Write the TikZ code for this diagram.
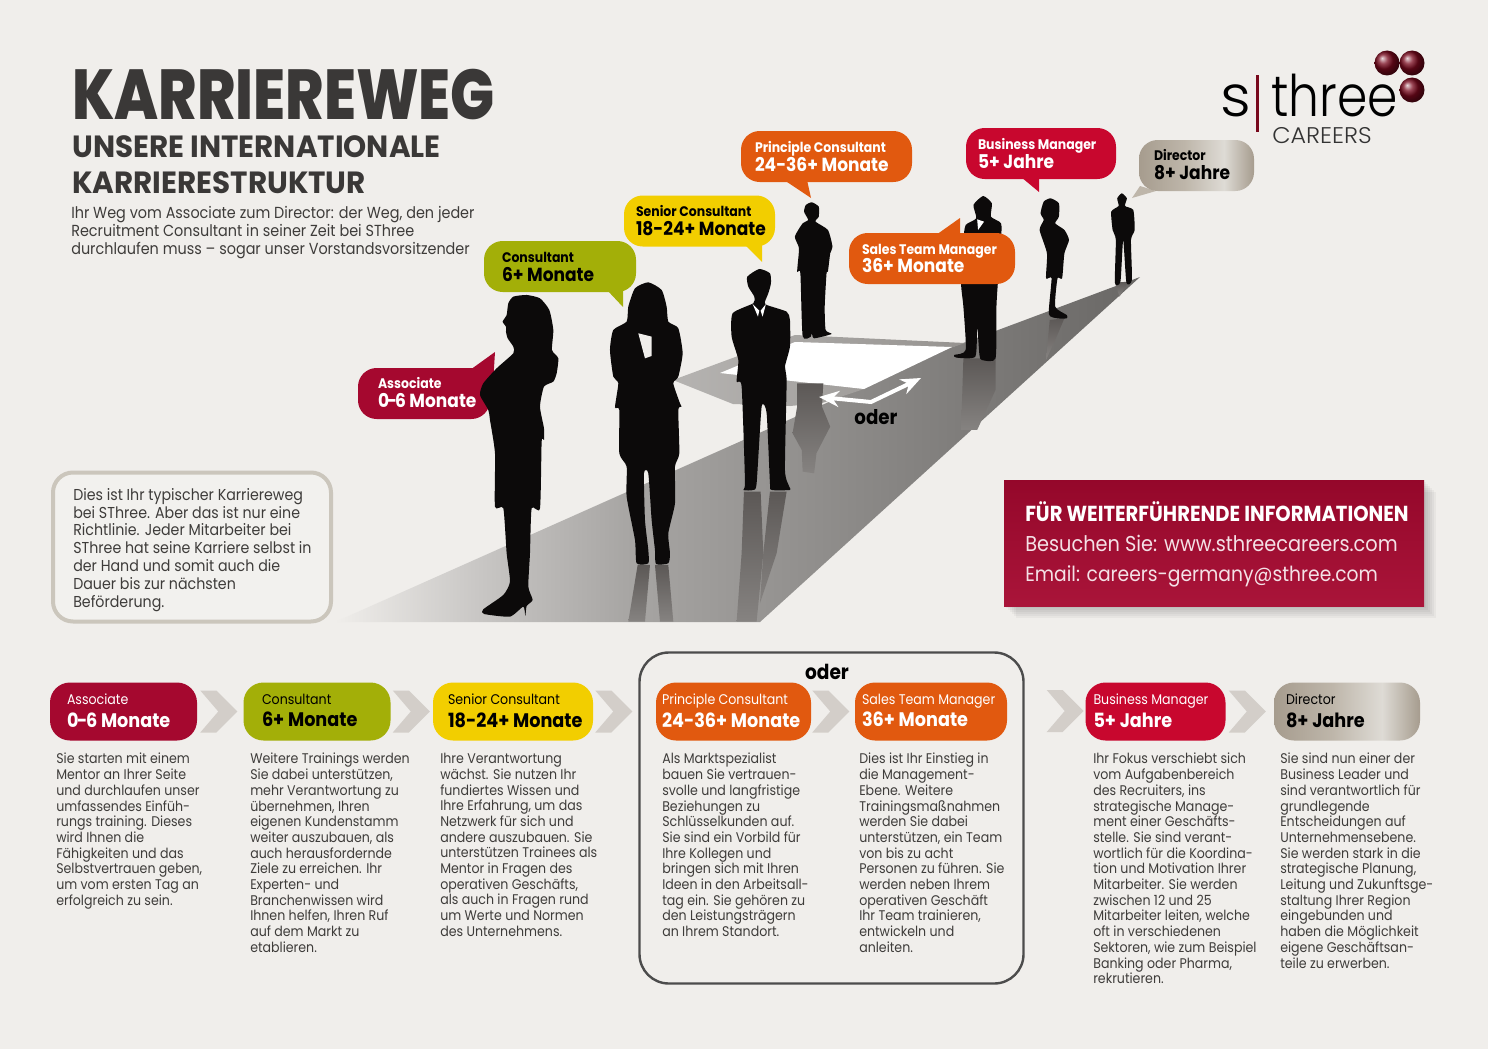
\documentclass[tikz,border=0pt]{standalone}
\usepackage{fontspec}
\setmainfont{Poppins}[FakeStretch=0.9]
\newfontfamily\logofont{Poppins}[UprightFont=* Light,FakeStretch=0.85]
\newfontfamily\logowide{Poppins}[UprightFont=* Light,FakeStretch=1.05]
\newfontfamily\titlefont{Poppins}[UprightFont=* ExtraBold,FakeStretch=0.825]
\newfontfamily\subfont{Poppins}[UprightFont=* Bold,FakeStretch=0.96]
\usepackage{xcolor}
\usetikzlibrary{arrows.meta, positioning, calc}
\definecolor{bgpaper}{RGB}{240, 238, 235}
\definecolor{assocred}{RGB}{165, 8, 47}
\definecolor{consgreen}{RGB}{163, 175, 8}
\definecolor{senioryellow}{RGB}{242, 206, 0}
\definecolor{princorange}{RGB}{225, 89, 15}
\definecolor{busred}{RGB}{200, 7, 46}
\definecolor{dirtan}{RGB}{190, 182, 170}
\definecolor{dirdark}{RGB}{166, 156, 142}
\definecolor{dirlight}{RGB}{222, 219, 213}
\definecolor{bodytext}{RGB}{62, 60, 58}
\definecolor{headtext}{RGB}{58, 56, 55}
\definecolor{chevgray}{RGB}{211, 206, 201}
\definecolor{noteframe}{RGB}{203, 198, 188}
\definecolor{silhouette}{RGB}{12, 10, 10}
\definecolor{roadmid}{RGB}{168, 166, 164}
\definecolor{roadlow}{RGB}{200, 198, 196}
\definecolor{roaddark}{RGB}{146, 144, 142}
\definecolor{roadend}{RGB}{105, 103, 101}
\definecolor{reflect}{RGB}{92, 88, 86}
\definecolor{bandgray}{RGB}{150, 147, 144}
\definecolor{logored}{RGB}{120, 8, 28}
\pgfdeclarehorizontalshading{roadshade}{100bp}{color(0bp)=(bgpaper); color(25bp)=(bgpaper); color(34bp)=(roadlow); color(43bp)=(roadmid); color(54bp)=(roaddark); color(75bp)=(roadend); color(100bp)=(roadend)}
\pgfdeclarehorizontalshading{dirshade}{100bp}{color(0bp)=(dirdark); color(25bp)=(dirdark); color(45bp)=(dirtan); color(62bp)=(dirlight); color(75bp)=(dirdark); color(100bp)=(dirdark)}
\def\px{0.75pt}
\tikzset{
    pill/.style={rectangle, rounded corners=15pt, minimum height=58*\px, inner sep=0pt},
    pilllabel/.style={anchor=west, inner sep=0pt, align=left, font=\fontsize{10}{17}\selectfont},
    bubble/.style={rectangle, rounded corners=14pt, minimum height=51*\px, inner sep=0pt},
    bubblelabel/.style={anchor=west, inner sep=0pt, align=left, font=\fontsize{10}{14}\selectfont},
    desc/.style={anchor=north west, inner sep=0pt, align=left, text=bodytext, font=\fontsize{10.5}{11.78}\selectfont},
    heading/.style={anchor=base west, inner sep=0pt, text=headtext},
    figure/.style={fill=silhouette},
    mirror/.style={top color=reflect, bottom color=reflect!45!roadmid},
    chevron/.style={fill=chevgray},
    oderarrow/.style={draw=white, line width=3pt, {Stealth[length=15pt,width=12pt]}-{Stealth[length=15pt,width=12pt]}},
    zoomone/.style={shift={(340,120)}, scale=0.3333},
    zoomtwo/.style={shift={(720,40)}, xscale=0.4592, yscale=0.3333}
}
\newcommand{\pilltext}[2]{{\fontsize{10.5}{17}\selectfont #1}\\{\fontsize{14.7}{17}\selectfont\bfseries #2}}
\newcommand{\bubtext}[2]{{\fontsize{10.4}{14}\selectfont\bfseries #1}\\{\fontsize{14.2}{14}\selectfont\bfseries #2}}
\newcommand{\chevronat}[1]{\fill[chevron, shift={(#1)}] (0,-21) -- (16,-21) -- (37,0) -- (16,21) -- (0,21) -- (18,0) -- cycle;}
\begin{document}
\begin{tikzpicture}[x=0.75pt, y=-0.75pt]
    \useasboundingbox (0,0) rectangle (1488,1049);
    \fill[bgpaper] (0,0) rectangle (1488,1049);

    % Road and platform
    \shade[shading=roadshade] (1140,277) -- (760,622) -- (335,622) -- (950,348) -- cycle;
    \shade[left color=bandgray!70!white, right color=bandgray] (673,380) -- (795,335) -- (965,343) -- (950,348) -- (864,389) -- (822,403) -- (790,406) -- (733,404) -- cycle;
    \fill[white] (720,373) -- (795,342) -- (952,347) -- (864,389) -- cycle;

    % Reflections
    \begin{scope}[zoomone]
        \path[mirror] (893,1335) -- (930,1335) -- (915,1505) -- (865,1505) -- cycle;
        \path[mirror] (945,1335) -- (985,1335) -- (1000,1505) -- (960,1505) -- cycle;
        \path[mirror] (1212,1115) -- (1262,1115) -- (1270,1300) -- (1250,1505) -- (1190,1505) -- (1205,1300) -- cycle;
        \path[mirror] (1290,1115) -- (1340,1115) -- (1310,1300) -- (1260,1450) -- (1270,1300) -- cycle;
    \end{scope}
    \begin{scope}[zoomtwo]
        \path[mirror] (168,1030) -- (225,1030) -- (222,1100) -- (240,1160) -- (210,1240) -- (205,1300) -- (180,1295) -- (178,1230) -- (158,1180) -- (168,1100) -- cycle;
        \path[mirror] (530,955) -- (600,955) -- (600,1050) -- (560,1170) -- (525,1170) -- cycle;
        \path[mirror] (718,840) -- (750,835) -- (730,900) -- (710,960) -- cycle;
        \path[mirror] (860,728) -- (890,725) -- (870,770) -- cycle;
    \end{scope}

    % Speech bubbles behind the figures
    \fill[assocred] (470,370) -- (495,352) -- (492,400) -- cycle;
    \node[bubble, fill=assocred, minimum width=132*\px] (assocbub) at (424,393.5) {};
    \node[bubblelabel, text=white] (assoclabel) at ($(assocbub.west)+(20,-1)$) {\bubtext{Associate}{0\kern-1.5pt-\kern-1.5pt6 Monate}};
    \fill[consgreen] (607,290) -- (623,307) -- (623,290) -- cycle;
    \node[bubble, fill=consgreen, minimum width=152*\px] (consbub) at (560,266.5) {};
    \node[bubblelabel, text=black] (conslabel) at ($(consbub.west)+(18,0.5)$) {\bubtext{Consultant}{6+ Monate}};
    \fill[senioryellow] (745,245) -- (762,262) -- (762,245) -- cycle;
    \node[bubble, fill=senioryellow, minimum width=151*\px] (seniorbub) at (699.5,221) {};
    \node[bubblelabel, text=black] (seniorlabel) at ($(seniorbub.west)+(12,-0.5)$) {\bubtext{Senior Consultant}{18-24+ Monate}};
    \fill[princorange] (784,180) -- (811,198) -- (807,180) -- cycle;
    \node[bubble, fill=princorange, minimum width=171*\px] (princbub) at (826.5,156.5) {};
    \node[bubblelabel, text=white] (princlabel) at ($(princbub.west)+(14,0)$) {\bubtext{Principle Consultant}{24-36+ Monate}};
    \fill[busred] (1021,177) -- (1039,192) -- (1039,177) -- cycle;
    \node[bubble, fill=busred, minimum width=150*\px] (busbub) at (1041,153.5) {};
    \node[bubblelabel, text=white] (buslabel) at ($(busbub.west)+(12,0)$) {\bubtext{Business Manager}{5+ Jahre}};
    \fill[dirtan] (1140,186) -- (1132,198) -- (1156,191) -- cycle;
    \node[bubble, shade, shading=dirshade, minimum width=115*\px] (dirbub) at (1196.5,165.5) {};
    \node[bubblelabel, text=black] (dirlabel) at ($(dirbub.west)+(15,-1)$) {\bubtext{Director}{8+ Jahre}};

    % Figures, front to back
    \begin{scope}[zoomone]
        \fill[figure] plot[smooth cycle, tension=0.35] coordinates {(560,525) (600,535) (628,570) (640,630) (636,690) (655,715) (650,760) (640,785) (612,800) (600,860) (612,925) (612,960) (605,965) (600,1165) (575,1165) (570,1300) (565,1400) (578,1440) (560,1458) (556,1488) (550,1460) (510,1490) (432,1482) (430,1468) (490,1425) (510,1385) (500,1300) (490,1165) (465,1160) (465,1000) (450,900) (445,870) (420,825) (430,790) (470,745) (520,700) (520,680) (503,655) (498,635) (498,620) (488,605) (500,585) (505,550) (520,530)};
        \fill[figure] plot[smooth cycle, tension=0.35] coordinates {(925,487) (965,510) (980,560) (985,605) (1015,625) (1028,700) (1015,770) (1000,790) (1020,850) (1025,860) (1015,870) (1018,1000) (1005,1040) (1005,1150) (985,1240) (990,1300) (985,1330) (948,1332) (945,1290) (935,1200) (925,1060) (912,1060) (915,1200) (925,1290) (925,1330) (890,1330) (885,1260) (860,1130) (860,1040) (838,1000) (838,870) (825,862) (835,790) (820,770) (810,690) (820,630) (860,605) (865,560) (885,505)};
        \fill[bgpaper] (895,640) -- (935,650) -- (935,708) -- (915,715) -- cycle;
        \fill[figure] plot[smooth cycle, tension=0.35] coordinates {(1258,447) (1290,460) (1293,490) (1285,520) (1275,545) (1280,555) (1340,575) (1350,600) (1350,680) (1335,740) (1340,785) (1335,1050) (1348,1100) (1350,1110) (1295,1110) (1290,1090) (1280,880) (1265,860) (1250,1090) (1240,1110) (1210,1110) (1215,1085) (1205,800) (1190,785) (1195,720) (1175,650) (1178,580) (1240,550) (1243,530) (1225,500) (1222,470)};
        \fill[white] (1238,552) -- (1258,572) -- (1254,590) -- cycle;
        \fill[white] (1278,552) -- (1262,572) -- (1268,590) -- cycle;
    \end{scope}
    \begin{scope}[zoomtwo]
        \fill[figure] plot[smooth cycle, tension=0.35] coordinates {(200,487) (215,500) (215,530) (208,545) (235,570) (245,620) (240,640) (235,695) (232,700) (228,800) (230,870) (243,882) (205,895) (200,880) (198,890) (180,888) (175,700) (168,695) (172,625) (163,590) (180,550) (192,540) (183,515) (187,495)};
        \fill[figure] plot[smooth cycle, tension=0.35] coordinates {(573,468) (592,490) (590,530) (612,550) (612,600) (605,730) (602,800) (600,955) (570,960) (565,945) (560,860) (556,950) (515,953) (510,945) (535,930) (530,800) (525,730) (530,600) (535,555) (558,535) (552,495)};
        \fill[white] (560,538) -- (575,545) -- (562,570) -- cycle;
        \fill[figure] plot[smooth cycle, tension=0.35] coordinates {(720,475) (738,490) (738,530) (730,550) (750,570) (760,600) (750,640) (745,715) (735,715) (730,800) (755,825) (755,835) (735,835) (716,822) (722,715) (710,715) (712,640) (696,570) (705,540) (698,520) (705,485)};
        \fill[figure] plot[smooth cycle, tension=0.35] coordinates {(875,460) (886,475) (882,498) (900,510) (903,570) (895,600) (897,720) (885,728) (878,600) (872,725) (860,728) (862,600) (855,570) (852,515) (868,498) (865,475)};
    \end{scope}

    % Sales bubble in front of its figure
    \fill[princorange] (936,235) -- (960,218) -- (960,235) -- cycle;
    \node[bubble, fill=princorange, minimum width=166*\px] (salesbub) at (932,258.5) {};
    \node[bubblelabel, text=white] (saleslabel) at ($(salesbub.west)+(13,0)$) {\bubtext{Sales Team Manager}{36+ Monate}};

    % Double arrow
    \coordinate (arrowleft) at (819,397);
    \coordinate (arrowbend) at (871,402);
    \coordinate (arrowright) at (921,378);
    \draw[oderarrow] (arrowleft) -- (arrowbend) -- (arrowright);
    \node[anchor=base, inner sep=0pt, font=\fontsize{15.2}{15}\selectfont\bfseries] (oderroad) at (876,424) {oder};

    % Title box
    \node[heading, font=\titlefont\fontsize{53}{53}\selectfont] (title) at (72,119) {KARRIEREWEG};
    \node[heading, font=\subfont\fontsize{23}{23}\selectfont] (subone) at (72,157) {UNSERE INTERNATIONALE};
    \node[heading, font=\subfont\fontsize{23}{23}\selectfont] (subtwo) at (72,193) {KARRIERESTRUKTUR};
    \node[desc, font=\fontsize{12}{13.4}\selectfont] (intro) at (71,206) {Ihr Weg vom Associate zum Director: der Weg, den jeder\\Recruitment Consultant in seiner Zeit bei SThree\\durchlaufen muss -- sogar unser Vorstandsvorsitzender};

    % Logo
    \node[anchor=base west, inner sep=0pt, font=\logowide\fontsize{43}{43}\selectfont, text=black] (logos) at (1220,116) {s};
    \node[anchor=base west, inner sep=0pt, font=\logofont\fontsize{43}{43}\selectfont, text=black] (logothree) at (1271,116) {three};
    \node[anchor=base west, inner sep=0pt, font=\logowide\fontsize{17}{17}\selectfont, text=black!80] (logocareers) at (1272,143) {CAREERS};
    \fill[logored] (1256,75) rectangle (1259,132);
    \shade[ball color=logored] (1387,63) circle (12.5);
    \shade[ball color=logored] (1412,63) circle (12.5);
    \shade[ball color=logored] (1412,90) circle (12.5);

    % Note box
    \node[rectangle, rounded corners=15pt, draw=noteframe, line width=3pt, fill=bgpaper!85!white, minimum width=278*\px, minimum height=149*\px] (notebox) at (192,547) {};
    \node[desc, font=\fontsize{11.85}{13.37}\selectfont] (notetext) at (73,488) {Dies ist Ihr typischer Karriereweg\\bei SThree. Aber das ist nur eine\\Richtlinie. Jeder Mitarbeiter bei\\SThree hat seine Karriere selbst in\\der Hand und somit auch die\\Dauer bis zur nächsten\\Beförderung.};

    % Info box
    \foreach \d in {2,4,...,12} {
        \fill[black, opacity=0.035] (1004+\d,480+\d) rectangle (1424+\d,606+\d);
    }
    \node[rectangle, top color=assocred!90!black, bottom color=assocred!95!white, minimum width=420*\px, minimum height=126*\px, inner sep=0pt] (infobox) at (1214,543) {};
    \node[anchor=base west, inner sep=0pt, text=white, font=\fontsize{16.3}{15}\selectfont\bfseries] (infohead) at (1025,521) {FÜR WEITERFÜHRENDE INFORMATIONEN};
    \node[anchor=base west, inner sep=0pt, text=white!88!assocred, font=\fontsize{16.1}{15}\selectfont] (infoweb) at (1025,551) {Besuchen Sie: www.sthreecareers.com};
    \node[anchor=base west, inner sep=0pt, text=white!88!assocred, font=\fontsize{15.6}{15}\selectfont] (infomail) at (1025,581) {Email: careers-germany@sthree.com};

    % Frame around the two options
    \node[rectangle, rounded corners=22pt, draw=black!70, line width=1.8pt, minimum width=384*\px, minimum height=331*\px] (orbox) at (831.5,818) {};
    \node[anchor=base, inner sep=0pt, font=\fontsize{15.5}{15}\selectfont\bfseries] (orlabel) at (827,679) {oder};

    % Career pills
    \node[pill, fill=assocred, minimum width=147*\px] (assocpill) at (123.5,711.5) {};
    \node[pilllabel, text=white] (assocpilltext) at ($(assocpill.west)+(17,-1)$) {\pilltext{Associate}{0\kern-1pt-\kern-1pt6 Monate}};
    \node[pill, fill=consgreen, minimum width=147*\px] (conspill) at (317,711.5) {};
    \node[pilllabel, text=black] (conspilltext) at ($(conspill.west)+(18.5,-1)$) {\pilltext{Consultant}{6+ Monate}};
    \node[pill, fill=senioryellow, minimum width=160*\px] (seniorpill) at (513,711.5) {};
    \node[pilllabel, text=black] (seniorpilltext) at ($(seniorpill.west)+(15,-1)$) {\pilltext{Senior Consultant}{18-24+ Monate}};
    \node[pill, fill=princorange, minimum width=155*\px] (princpill) at (733.5,711.5) {};
    \node[pilllabel, text=white] (princpilltext) at ($(princpill.west)+(6,-1)$) {\pilltext{Principle Consultant}{24-36+ Monate}};
    \node[pill, fill=princorange, minimum width=152*\px] (salespill) at (931,711.5) {};
    \node[pilllabel, text=white] (salespilltext) at ($(salespill.west)+(7,-1)$) {\pilltext{Sales Team Manager}{36+ Monate}};
    \node[pill, fill=busred, minimum width=140*\px] (buspill) at (1155.5,711.5) {};
    \node[pilllabel, text=white] (buspilltext) at ($(buspill.west)+(8,-1)$) {\pilltext{Business Manager}{5+ Jahre}};
    \node[pill, shade, shading=dirshade, minimum width=146*\px] (dirpill) at (1347,711.5) {};
    \node[pilllabel, text=black] (dirpilltext) at ($(dirpill.west)+(12,-1)$) {\pilltext{Director}{8+ Jahre}};

    % Chevrons between the pills
    \chevronat{$(assocpill.east)+(3,0)$}
    \chevronat{$(conspill.east)+(2,0)$}
    \chevronat{$(seniorpill.east)+(2,0)$}
    \chevronat{$(princpill.east)+(1,0)$}
    \chevronat{$(orbox.east)+(22,-107)$}
    \chevronat{$(buspill.east)+(3,0)$}

    % Career descriptions
    \node[desc] (assocdesc) at (56,753) {Sie starten mit einem\\Mentor an Ihrer Seite\\und durchlaufen unser\\umfassendes Einfüh-\\rungs training. Dieses\\wird Ihnen die\\Fähigkeiten und das\\Selbstvertrauen geben,\\um vom ersten Tag an\\erfolgreich zu sein.};
    \node[desc] (consdesc) at (250,753) {Weitere Trainings werden\\Sie dabei unterstützen,\\mehr Verantwortung zu\\übernehmen, Ihren\\eigenen Kundenstamm\\weiter auszubauen, als\\auch herausfordernde\\Ziele zu erreichen. Ihr\\Experten- und\\Branchenwissen wird\\Ihnen helfen, Ihren Ruf\\auf dem Markt zu\\etablieren.};
    \node[desc] (seniordesc) at (440,753) {Ihre Verantwortung\\wächst. Sie nutzen Ihr\\fundiertes Wissen und\\Ihre Erfahrung, um das\\Netzwerk für sich und\\andere auszubauen. Sie\\unterstützen Trainees als\\Mentor in Fragen des\\operativen Geschäfts,\\als auch in Fragen rund\\um Werte und Normen\\des Unternehmens.};
    \node[desc] (princdesc) at (662,753) {Als Marktspezialist\\bauen Sie vertrauen-\\svolle und langfristige\\Beziehungen zu\\Schlüsselkunden auf.\\Sie sind ein Vorbild für\\Ihre Kollegen und\\bringen sich mit Ihren\\Ideen in den Arbeitsall-\\tag ein. Sie gehören zu\\den Leistungsträgern\\an Ihrem Standort.};
    \node[desc] (salesdesc) at (859,753) {Dies ist Ihr Einstieg in\\die Management-\\Ebene. Weitere\\Trainingsmaßnahmen\\werden Sie dabei\\unterstützen, ein Team\\von bis zu acht\\Personen zu führen. Sie\\werden neben Ihrem\\operativen Geschäft\\Ihr Team trainieren,\\entwickeln und\\anleiten.};
    \node[desc] (busdesc) at (1093,753) {Ihr Fokus verschiebt sich\\vom Aufgabenbereich\\des Recruiters, ins\\strategische Manage-\\ment einer Geschäfts-\\stelle. Sie sind verant-\\wortlich für die Koordina-\\tion und Motivation Ihrer\\Mitarbeiter. Sie werden\\zwischen 12 und 25\\Mitarbeiter leiten, welche\\oft in verschiedenen\\Sektoren, wie zum Beispiel\\Banking oder Pharma,\\rekrutieren.};
    \node[desc] (dirdesc) at (1280,753) {Sie sind nun einer der\\Business Leader und\\sind verantwortlich für\\grundlegende\\Entscheidungen auf\\Unternehmensebene.\\Sie werden stark in die\\strategische Planung,\\Leitung und Zukunftsge-\\staltung Ihrer Region\\eingebunden und\\haben die Möglichkeit\\eigene Geschäftsan-\\teile zu erwerben.};
\end{tikzpicture}
\end{document}
